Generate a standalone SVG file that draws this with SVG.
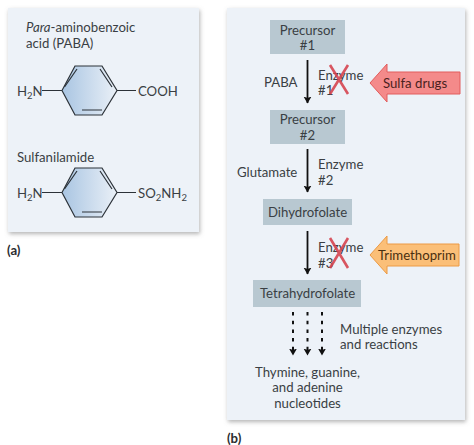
<svg xmlns="http://www.w3.org/2000/svg" width="474" height="445" viewBox="0 0 474 445">
<style>
text{font-family:"Lato","Liberation Sans",sans-serif;font-size:13.2px;fill:#3a3f44}
.m{text-anchor:middle}
.b{font-weight:700;fill:#2a2d30}
.box{fill:#b8c8d1}
.panel{fill:#edf2f8;filter:url(#sh)}
.ring{fill:url(#rg);stroke:#2c3238;stroke-width:1.2}
.bond{stroke:#2c3238;stroke-width:1.2;fill:none}
.ar{stroke:#111;stroke-width:1.8;fill:none}
.da{stroke:#111;stroke-width:2;fill:none;stroke-dasharray:3.500 5.200}
.x{stroke:#d5444f;stroke-width:2.6;fill:none;opacity:.9}
tspan.s{font-size:9.5px}
</style>
<defs>
<filter id="sh" x="-10%" y="-10%" width="120%" height="120%"><feDropShadow dx="1" dy="2" stdDeviation="2" flood-color="#777" flood-opacity=".55"/></filter>
<linearGradient id="rg" x1="0" x2="1" y1="0" y2="0"><stop offset="0" stop-color="#a9c5e2"/><stop offset="1" stop-color="#eaf0f7"/></linearGradient>
<marker id="ah" markerWidth="8" markerHeight="9" refX="6.5" refY="4" orient="auto" markerUnits="userSpaceOnUse"><path d="M0 0L7 4L0 8L1.5 4Z" fill="#111"/></marker>
</defs>
<rect width="474" height="445" fill="#fff"/>
<rect id="panel-a" class="panel" x="8" y="8" width="191" height="224"/>
<rect id="panel-b" class="panel" x="227" y="8" width="238" height="412"/>
<g id="paba">
<text x="26" y="32"><tspan font-style="italic">Para</tspan>-aminobenzoic</text>
<text x="26" y="48">acid (PABA)</text>
<path class="ring" d="M62 90.500L75 66H102L117 90.500L102 115H75Z"/>
<path class="bond" d="M64.500 87L77 69M100 69L112 87M82 110H102M42 90.500H62M117 90.500H136"/>
<text x="17" y="96">H<tspan class="s" dy="3">2</tspan><tspan dy="-3">N</tspan></text>
<text x="138" y="96">COOH</text>
</g>
<g id="sulfanilamide">
<text x="17" y="162">Sulfanilamide</text>
<path class="ring" d="M62 192.500L75 168H102L117 192.500L102 217H75Z"/>
<path class="bond" d="M64.500 189L77 171M100 171L112 189M82 212H102M42 192.500H62M117 192.500H136"/>
<text x="17" y="198">H<tspan class="s" dy="3">2</tspan><tspan dy="-3">N</tspan></text>
<text x="138" y="198">SO<tspan class="s" dy="3">2</tspan><tspan dy="-3">NH</tspan><tspan class="s" dy="3">2</tspan></text>
</g>
<text id="label-a" class="b" x="7" y="255">(a)</text>
<text id="label-b" class="b" x="227" y="443">(b)</text>
<g id="connectors">
<path class="ar" d="M307.500 60V103" marker-end="url(#ah)"/>
<path class="ar" d="M307.500 149V192" marker-end="url(#ah)"/>
<path class="ar" d="M307.500 231V274" marker-end="url(#ah)"/>
<path class="da" d="M293 312V355" marker-end="url(#ah)"/>
<path class="da" d="M307.500 312V355" marker-end="url(#ah)"/>
<path class="da" d="M322 312V355" marker-end="url(#ah)"/>
</g>
<g id="precursor1"><rect class="box" x="270" y="20" width="75" height="34"/><text class="m" x="307.500" y="35">Precursor</text><text class="m" x="307.500" y="50">#1</text></g>
<g id="precursor2"><rect class="box" x="270" y="110" width="75" height="34"/><text class="m" x="307.500" y="124">Precursor</text><text class="m" x="307.500" y="140">#2</text></g>
<g id="dihydrofolate"><rect class="box" x="263" y="199" width="89" height="26"/><text class="m" x="307.500" y="217">Dihydrofolate</text></g>
<g id="tetrahydrofolate"><rect class="box" x="253" y="280" width="108" height="27"/><text class="m" x="307.500" y="298">Tetrahydrofolate</text></g>
<g id="labels">
<text x="264" y="87">PABA</text>
<text x="237" y="177">Glutamate</text>
<text x="318" y="80">Enzyme</text><text x="318" y="95">#1</text>
<text x="318" y="169">Enzyme</text><text x="318" y="185">#2</text>
<text x="318" y="252">Enzyme</text><text x="318" y="268">#3</text>
<text x="340" y="334">Multiple enzymes</text><text x="340" y="349">and reactions</text>
<text class="m" x="307.500" y="377">Thymine, guanine,</text>
<text class="m" x="307.500" y="392">and adenine</text>
<text class="m" x="307.500" y="408">nucleotides</text>
</g>
<path class="x" d="M330 65L348 94M348 65L330 94"/>
<path class="x" d="M330 238L348 268M348 238L330 268"/>
<g id="sulfa-drugs"><path d="M370 83L387 64V72H460V94H387V102Z" fill="#f48a8a" stroke="#e25c5c" stroke-width="1"/><text x="383" y="88" style="fill:#4a1f20">Sulfa drugs</text></g>
<g id="trimethoprim"><path d="M370 255L387 236V244H459V266H387V274Z" fill="#fbbf78" stroke="#ec9a45" stroke-width="1"/><text x="378" y="260" style="fill:#4a2f10">Trimethoprim</text></g>
</svg>
